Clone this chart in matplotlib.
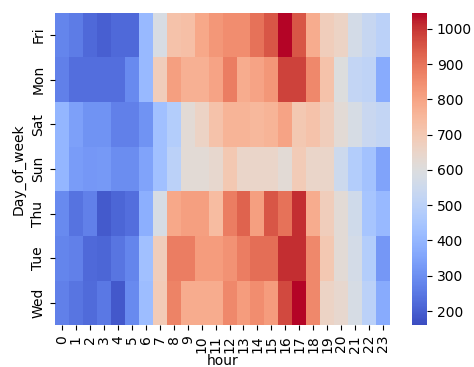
import numpy as np
import pandas as pd
import matplotlib
matplotlib.use("Agg")
import matplotlib.pyplot as plt
import seaborn as sns

# rides per weekday and hour
days = ["Fri", "Mon", "Sat", "Sun", "Thu", "Tue", "Wed"]
hours = list(range(24))

fri = [280, 260, 220, 200, 220, 220, 410, 585, 720, 730, 790, 830, 850, 850, 900, 950, 1045, 950, 780, 680, 660, 570, 530, 500]
mon = [270, 230, 230, 230, 230, 290, 410, 680, 810, 770, 770, 800, 880, 780, 800, 830, 980, 980, 860, 720, 600, 520, 510, 370]
sat = [400, 340, 310, 310, 270, 270, 310, 430, 480, 620, 660, 720, 760, 760, 750, 760, 800, 700, 720, 680, 620, 580, 540, 520]
sun = [400, 330, 320, 325, 295, 295, 350, 430, 500, 620, 620, 640, 700, 650, 650, 650, 620, 690, 650, 650, 550, 480, 440, 350]
thu = [290, 240, 270, 190, 215, 230, 380, 580, 790, 810, 810, 740, 880, 930, 810, 950, 900, 1010, 780, 680, 620, 560, 450, 410]
tue = [280, 270, 220, 215, 245, 280, 430, 680, 880, 880, 820, 820, 840, 880, 910, 910, 1010, 1010, 860, 700, 620, 570, 480, 320]
wed = [270, 245, 225, 250, 185, 290, 420, 690, 870, 780, 780, 780, 860, 820, 850, 820, 970, 1045, 860, 660, 640, 580, 500, 370]

df = pd.DataFrame([fri, mon, sat, sun, thu, tue, wed], index=days, columns=hours)
df.index.name = "Day_of_week"
df.columns.name = "hour"

fig = plt.figure(figsize=(4.74, 3.67), dpi=100)
ax = fig.add_axes([0.116, 0.114, 0.707, 0.851])
cax = fig.add_axes([0.869, 0.114, 0.032, 0.851])

sns.heatmap(df, cmap="coolwarm", vmin=160, vmax=1045, ax=ax, cbar_ax=cax,
            xticklabels=True, yticklabels=True)

ax.set_xticklabels(ax.get_xticklabels(), rotation=90)
ax.set_yticklabels(ax.get_yticklabels(), rotation=90, va="center")
ax.xaxis.labelpad = 1
cax.set_yticks([200, 300, 400, 500, 600, 700, 800, 900, 1000])

plt.savefig("out.png", dpi=100)
